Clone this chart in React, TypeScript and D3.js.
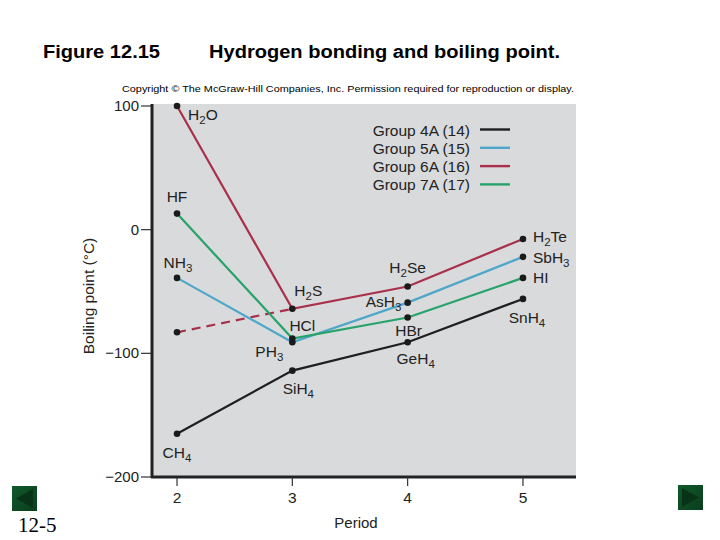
import React from 'react'
import { scaleLinear, line } from 'd3'

// periods on the x axis
const periods = [2, 3, 4, 5]
const yTicks = [100, 0, -100, -200]

// boiling points (°C), one list per group
const group4A = [-165, -114, -91, -56]
const group5A = [-39, -91, -59, -22]
const group6A = [100, -64, -46, -7.5]
const group7A = [13, -88, -71, -39]
// H2O if there were no hydrogen bonding (dashed extrapolation)
const waterExpected = [-83, -64]

const names4A = ['CH4', 'SiH4', 'GeH4', 'SnH4']
const names5A = ['NH3', 'PH3', 'AsH3', 'SbH3']
const names6A = ['H2O', 'H2S', 'H2Se', 'H2Te']
const names7A = ['HF', 'HCl', 'HBr', 'HI']

const legendLabels = ['Group 4A (14)', 'Group 5A (15)', 'Group 6A (16)', 'Group 7A (17)']

const groups = [
  { values: group4A, names: names4A, color: '#1f1f1f' },
  { values: group5A, names: names5A, color: '#4ea6c9' },
  { values: group6A, names: names6A, color: '#a8304a' },
  { values: group7A, names: names7A, color: '#27a36a' },
]

// where each compound label sits relative to its dot
const labelOffset: Record<string, [number, number, string]> = {
  CH4: [0, 24, 'middle'], SiH4: [6, 23, 'middle'], GeH4: [8, 22, 'middle'], SnH4: [4, 24, 'middle'],
  NH3: [1, -10, 'middle'], PH3: [-23, 15, 'middle'], AsH3: [-24, 4, 'middle'], SbH3: [10, 6, 'start'],
  H2O: [11, 14, 'start'], H2S: [16, -13, 'middle'], H2Se: [0, -14, 'middle'], H2Te: [10, 3, 'start'],
  HF: [0, -12, 'middle'], HCl: [10, -7, 'middle'], HBr: [1, 19, 'middle'], HI: [10, 5, 'start'],
}

const Formula = ({ name, x, y, anchor }: { name: string; x: number; y: number; anchor: string }) => {
  const parts = name.match(/[A-Za-z]+|\d+/g) || []
  return (
    <text x={x} y={y} textAnchor={anchor} fontSize={15.5} fill="#222" fontFamily="Liberation Sans, Arial, sans-serif">
      {parts.map((p, i) =>
        /\d/.test(p)
          ? <tspan key={i} fontSize={11.5} dy={4}>{p}</tspan>
          : <tspan key={i} dy={i > 0 && /\d/.test(parts[i - 1]) ? -4 : 0}>{p}</tspan>
      )}
    </text>
  )
}

const App = () => {
  const left = 152, right = 576, top = 104, bottom = 477
  const x = scaleLinear().domain([1.783, 5.46]).range([left, right])
  const y = scaleLinear().domain([-200, 100]).range([bottom, 106])

  const path = line<[number, number]>().x(d => x(d[0])).y(d => y(d[1]))
  const font = 'Liberation Sans, Arial, sans-serif'

  return (
    <svg width={720} height={540} style={{ position: 'absolute', left: 0, top: 0, background: 'white' }}>
      {/* heading */}
      <text x={43} y={58} fontSize={18} fontWeight="bold" fontFamily="Liberation Sans Narrow, Liberation Sans, Arial" textLength={117} lengthAdjust="spacingAndGlyphs">Figure 12.15</text>
      <text x={209} y={58} fontSize={18} fontWeight="bold" fontFamily="Liberation Sans Narrow, Liberation Sans, Arial" textLength={351} lengthAdjust="spacingAndGlyphs">Hydrogen bonding and boiling point.</text>
      <text x={122} y={92} fontSize={9.5} fontFamily="Liberation Sans Narrow, Liberation Sans, Arial" textLength={452} lengthAdjust="spacingAndGlyphs">Copyright © The McGraw-Hill Companies, Inc. Permission required for reproduction or display.</text>

      {/* plot background */}
      <rect x={left} y={top} width={right - left} height={bottom - top} fill="#d9dadc" />

      {/* y axis */}
      {yTicks.map(t => (
        <g key={t}>
          <line x1={141} x2={left} y1={y(t)} y2={y(t)} stroke="#333" strokeWidth={1.2} />
          <text x={139} y={y(t) + 5} textAnchor="end" fontSize={15} fontFamily={font} fill="#222">
            {t < 0 ? '\u2212' + Math.abs(t) : t}
          </text>
        </g>
      ))}
      <line x1={left} x2={left} y1={top} y2={bottom + 1} stroke="#222" strokeWidth={3} />
      <text transform={`translate(94,296) rotate(-90)`} textAnchor="middle" fontSize={15.5} fontFamily={font} fill="#222">Boiling point (°C)</text>

      {/* x axis */}
      <line x1={left - 1} x2={right} y1={bottom} y2={bottom} stroke="#222" strokeWidth={3} />
      {periods.map(p => (
        <g key={p}>
          <line x1={x(p)} x2={x(p)} y1={bottom} y2={bottom + 9} stroke="#333" strokeWidth={1.2} />
          <text x={x(p)} y={503} textAnchor="middle" fontSize={15.5} fontFamily={font} fill="#222">{p}</text>
        </g>
      ))}
      <text x={356} y={528} textAnchor="middle" fontSize={15} fontFamily={font} fill="#222">Period</text>

      {/* dashed extrapolation for water */}
      <path d={path([[2, waterExpected[0]], [3, waterExpected[1]]]) || ''} fill="none" stroke={groups[2].color} strokeWidth={2.2} strokeDasharray="9 6" />

      {/* series */}
      {groups.map((g, gi) => (
        <path key={gi} d={path(g.values.map((v, i) => [periods[i], v] as [number, number])) || ''} fill="none" stroke={g.color} strokeWidth={2.2} />
      ))}
      <circle cx={x(2)} cy={y(waterExpected[0])} r={3.3} fill="#1a1a1a" />
      {groups.map((g, gi) => g.values.map((v, i) => (
        <circle key={gi + '-' + i} cx={x(periods[i])} cy={y(v)} r={3.3} fill="#1a1a1a" />
      )))}
      {groups.map(g => g.names.map((n, i) => {
        const [dx, dy, anchor] = labelOffset[n]
        return <Formula key={n} name={n} x={x(periods[i]) + dx} y={y(g.values[i]) + dy} anchor={anchor} />
      }))}

      {/* legend */}
      {legendLabels.map((l, i) => (
        <g key={l}>
          <text x={470} y={135.5 + i * 18.3} textAnchor="end" fontSize={15.5} fontFamily={font} fill="#222">{l}</text>
          <line x1={480} x2={510} y1={129.5 + i * 18.3} y2={129.5 + i * 18.3} stroke={groups[i].color} strokeWidth={2.4} />
        </g>
      ))}

      {/* slide navigation */}
      <defs>
        <linearGradient id="btn" x1="0" y1="0" x2="1" y2="1">
          <stop offset="0" stopColor="#0f5a2c" />
          <stop offset="1" stopColor="#0a3d1c" />
        </linearGradient>
      </defs>
      <rect x={12} y={486} width={25} height={25} fill="url(#btn)" />
      <path d="M16,498.5 L33,489 L33,508 Z" fill="#083318" />
      <rect x={678} y={485} width={25} height={25} fill="url(#btn)" />
      <path d="M699,497.5 L682,488 L682,507 Z" fill="#083318" />
      <text x={18} y={532} fontSize={21} fontFamily="Liberation Serif, Times New Roman, serif" fill="#000">12-5</text>
    </svg>
  )
}

export default App
